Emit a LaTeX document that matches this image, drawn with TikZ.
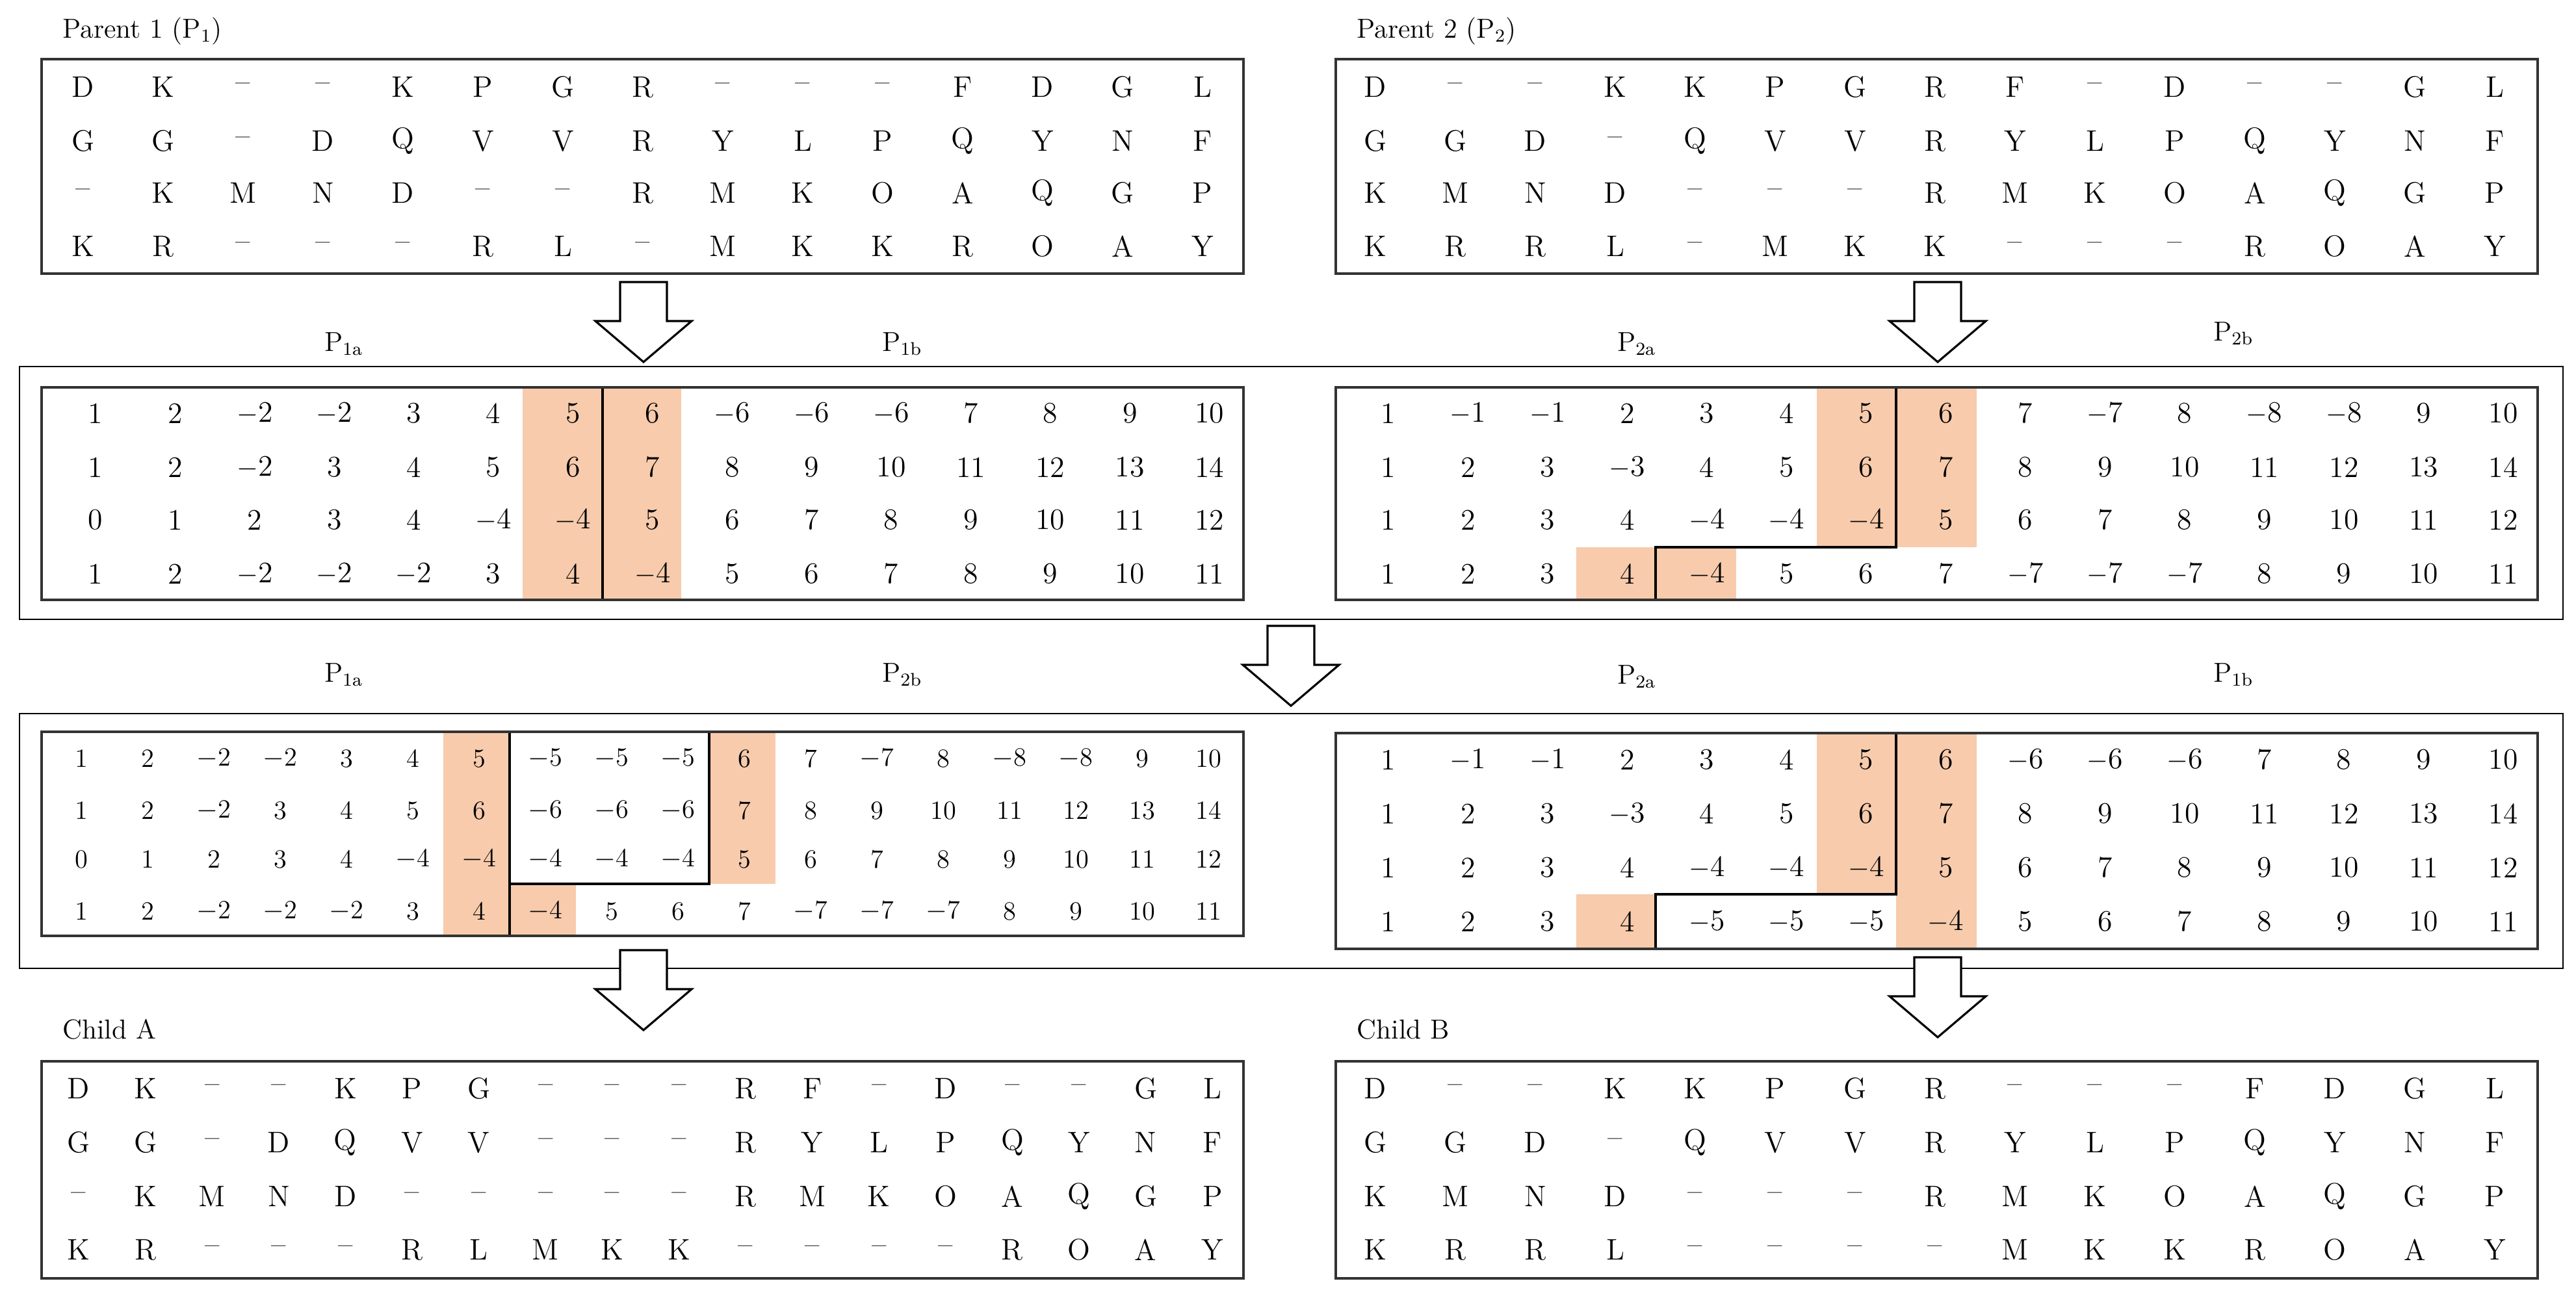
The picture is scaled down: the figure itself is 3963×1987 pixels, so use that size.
\documentclass[tikz,border=0pt]{standalone}
\usepackage{textcomp}
\definecolor{peach}{HTML}{F7CBAC}
\tikzset{
  inner/.style={draw=black!80, line width=0.95pt},
  outer/.style={draw=black, line width=0.8pt},
  cell/.style={inner sep=0pt, font=\fontsize{13}{15}\selectfont},
  lbl/.style={inner sep=0pt, anchor=west, font=\fontsize{12}{14}\selectfont},
  sub/.style={inner sep=0pt, font=\fontsize{12}{14}\selectfont},
  shade/.style={fill=peach, draw=none},
  cut/.style={draw=black, line width=0.9pt},
  bigarr/.style={draw=black, fill=white, line width=0.9pt, line join=miter}
}
\newcommand\myarrow[3]{% name, cx, top
  \path[bigarr] (#2-36,#3) coordinate (#1) -- (#2+36,#3) -- (#2+36,#3+60) -- (#2+74,#3+60) -- (#2,#3+123) -- (#2-74,#3+60) -- (#2-36,#3+60) -- cycle;}
\newcommand\mrow[6]{% prefix, row, y, x1, dx, list
  \foreach \t [count=\c] in {#6} {\node[cell] (#1-#2-\c) at ({#4+(\c-1)*#5},#3) {\t};}}
\newcommand\gap{\raisebox{-0.15ex}{--}}
\begin{document}
\begin{tikzpicture}[x=0.01cm,y=-0.01cm]
\useasboundingbox (0,0) rectangle (3963,1987);
% ---------- Row 1: parents
\node[lbl] (lp1) at (96,48) {Parent 1 (P\textsubscript{1})};
\node[lbl] (lp2) at (2087,48) {Parent 2 (P\textsubscript{2})};
\draw[inner] (64,91) rectangle (1913,421);
\draw[inner] (2055,91) rectangle (3904,421);
\mrow{a}{1}{134}{128}{123}{D,K,\gap,\gap,K,P,G,R,\gap,\gap,\gap,F,D,G,L}
\mrow{a}{2}{217}{128}{123}{G,G,\gap,D,Q,V,V,R,Y,L,P,Q,Y,N,F}
\mrow{a}{3}{297}{128}{123}{\gap,K,M,N,D,\gap,\gap,R,M,K,O,A,Q,G,P}
\mrow{a}{4}{379}{128}{123}{K,R,\gap,\gap,\gap,R,L,\gap,M,K,K,R,O,A,Y}
\mrow{b}{1}{134}{2116}{123}{D,\gap,\gap,K,K,P,G,R,F,\gap,D,\gap,\gap,G,L}
\mrow{b}{2}{217}{2116}{123}{G,G,D,\gap,Q,V,V,R,Y,L,P,Q,Y,N,F}
\mrow{b}{3}{297}{2116}{123}{K,M,N,D,\gap,\gap,\gap,R,M,K,O,A,Q,G,P}
\mrow{b}{4}{379}{2116}{123}{K,R,R,L,\gap,M,K,K,\gap,\gap,\gap,R,O,A,Y}
\myarrow{ar1}{990}{434}
\myarrow{ar2}{2981}{434}
% ---------- Row 2
\draw[outer] (30,564) rectangle (3943,953);
\node[sub] (l1a) at (529,529) {P\textsubscript{1a}};
\node[sub] (l1b) at (1388,529) {P\textsubscript{1b}};
\node[sub] (l2a) at (2518,529) {P\textsubscript{2a}};
\node[sub] (l2b) at (3436,513) {P\textsubscript{2b}};
\fill[shade] (804,596) rectangle (1048,923);
\fill[shade] (2795,596) rectangle (3041,842);
\fill[shade] (2425,842) rectangle (2671,923);
\draw[cut] (927,596) -- (927,923);
\draw[cut] (2917,596) -- (2917,842) -- (2547,842) -- (2547,923);
\draw[inner] (64,596) rectangle (1913,923);
\draw[inner] (2055,596) rectangle (3904,923);
\mrow{c}{1}{636}{147}{122.4}{1,2,$-$2,$-$2,3,4,5,6,$-$6,$-$6,$-$6,7,8,9,10}
\mrow{c}{2}{719}{147}{122.4}{1,2,$-$2,3,4,5,6,7,8,9,10,11,12,13,14}
\mrow{c}{3}{800}{147}{122.4}{0,1,2,3,4,$-$4,$-$4,5,6,7,8,9,10,11,12}
\mrow{c}{4}{883}{147}{122.4}{1,2,$-$2,$-$2,$-$2,3,4,$-$4,5,6,7,8,9,10,11}
\mrow{d}{1}{636}{2136}{122.5}{1,$-$1,$-$1,2,3,4,5,6,7,$-$7,8,$-$8,$-$8,9,10}
\mrow{d}{2}{719}{2136}{122.5}{1,2,3,$-$3,4,5,6,7,8,9,10,11,12,13,14}
\mrow{d}{3}{800}{2136}{122.5}{1,2,3,4,$-$4,$-$4,$-$4,5,6,7,8,9,10,11,12}
\mrow{d}{4}{883}{2136}{122.5}{1,2,3,4,$-$4,5,6,7,$-$7,$-$7,$-$7,8,9,10,11}
\myarrow{ar3}{1986}{963}
% ---------- Row 3
\draw[outer] (30,1098) rectangle (3943,1490);
\node[sub] (m1a) at (529,1038) {P\textsubscript{1a}};
\node[sub] (m2b) at (1388,1038) {P\textsubscript{2b}};
\node[sub] (m2a) at (2518,1041) {P\textsubscript{2a}};
\node[sub] (m1b) at (3436,1038) {P\textsubscript{1b}};
\fill[shade] (682,1126) rectangle (784,1440);
\fill[shade] (1091,1126) rectangle (1193,1360);
\fill[shade] (784,1360) rectangle (886,1440);
\draw[cut] (784,1126) -- (784,1440);
\draw[cut] (784,1360) -- (1091,1360) -- (1091,1126);
\fill[shade] (2795,1128) rectangle (2917,1376);
\fill[shade] (2917,1128) rectangle (3041,1460);
\fill[shade] (2425,1376) rectangle (2547,1460);
\draw[cut] (2917,1128) -- (2917,1376) -- (2547,1376) -- (2547,1460);
\draw[inner] (64,1126) rectangle (1913,1440);
\draw[inner] (2055,1128) rectangle (3904,1460);
\begin{scope}[cell/.append style={font=\fontsize{11.5}{13}\selectfont}]
\mrow{e}{1}{1167}{125}{102}{1,2,$-$2,$-$2,3,4,5,$-$5,$-$5,$-$5,6,7,$-$7,8,$-$8,$-$8,9,10}
\mrow{e}{2}{1247}{125}{102}{1,2,$-$2,3,4,5,6,$-$6,$-$6,$-$6,7,8,9,10,11,12,13,14}
\mrow{e}{3}{1322}{125}{102}{0,1,2,3,4,$-$4,$-$4,$-$4,$-$4,$-$4,5,6,7,8,9,10,11,12}
\mrow{e}{4}{1402}{125}{102}{1,2,$-$2,$-$2,$-$2,3,4,$-$4,5,6,7,$-$7,$-$7,$-$7,8,9,10,11}
\end{scope}
\mrow{f}{1}{1169}{2136}{122.5}{1,$-$1,$-$1,2,3,4,5,6,$-$6,$-$6,$-$6,7,8,9,10}
\mrow{f}{2}{1252}{2136}{122.5}{1,2,3,$-$3,4,5,6,7,8,9,10,11,12,13,14}
\mrow{f}{3}{1335}{2136}{122.5}{1,2,3,4,$-$4,$-$4,$-$4,5,6,7,8,9,10,11,12}
\mrow{f}{4}{1418}{2136}{122.5}{1,2,3,4,$-$5,$-$5,$-$5,$-$4,5,6,7,8,9,10,11}
\myarrow{ar4}{990}{1462}
\myarrow{ar5}{2981}{1473}
% ---------- Row 4: children
\node[lbl] (lca) at (96,1584) {Child A};
\node[lbl] (lcb) at (2087,1584) {Child B};
\draw[inner] (64,1633) rectangle (1913,1967);
\draw[inner] (2055,1633) rectangle (3904,1967);
\mrow{g}{1}{1675}{121}{102.6}{D,K,\gap,\gap,K,P,G,\gap,\gap,\gap,R,F,\gap,D,\gap,\gap,G,L}
\mrow{g}{2}{1758}{121}{102.6}{G,G,\gap,D,Q,V,V,\gap,\gap,\gap,R,Y,L,P,Q,Y,N,F}
\mrow{g}{3}{1841}{121}{102.6}{\gap,K,M,N,D,\gap,\gap,\gap,\gap,\gap,R,M,K,O,A,Q,G,P}
\mrow{g}{4}{1923}{121}{102.6}{K,R,\gap,\gap,\gap,R,L,M,K,K,\gap,\gap,\gap,\gap,R,O,A,Y}
\mrow{h}{1}{1675}{2116}{123}{D,\gap,\gap,K,K,P,G,R,\gap,\gap,\gap,F,D,G,L}
\mrow{h}{2}{1758}{2116}{123}{G,G,D,\gap,Q,V,V,R,Y,L,P,Q,Y,N,F}
\mrow{h}{3}{1841}{2116}{123}{K,M,N,D,\gap,\gap,\gap,R,M,K,O,A,Q,G,P}
\mrow{h}{4}{1923}{2116}{123}{K,R,R,L,\gap,\gap,\gap,\gap,M,K,K,R,O,A,Y}
\end{tikzpicture}
\end{document}
